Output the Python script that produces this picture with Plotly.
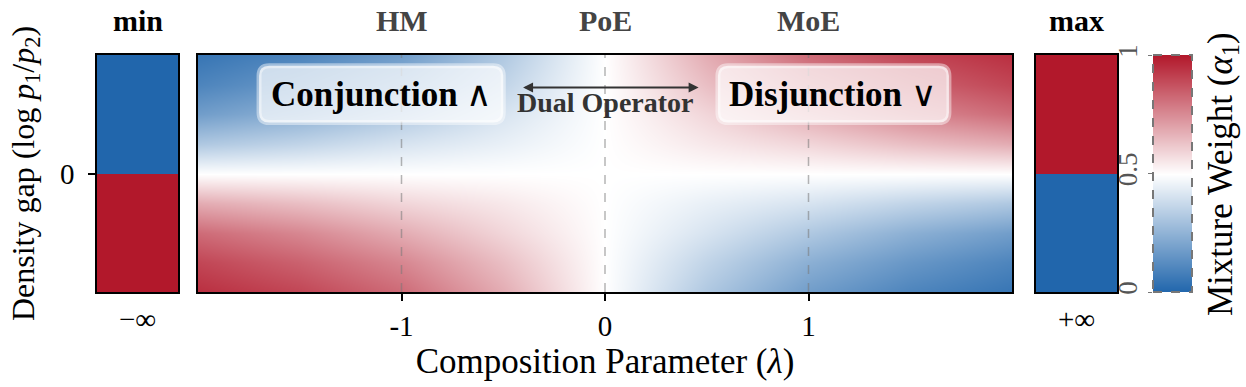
import plotly.graph_objects as go

# ---------------- data ----------------
lambda_vals = [-2, -1.5, -1, -0.5, 0, 0.5, 1, 1.5, 2]
gap_vals = [-1, -0.75, -0.5, -0.25, 0, 0.25, 0.5, 0.75, 1]
# mixture weight alpha_1, rows follow gap_vals (bottom -> top), columns follow lambda_vals
weight_grid = [
    [0.95, 0.90, 0.82, 0.68, 0.50, 0.32, 0.18, 0.10, 0.05],
    [0.90, 0.84, 0.76, 0.64, 0.50, 0.36, 0.24, 0.16, 0.10],
    [0.82, 0.76, 0.68, 0.59, 0.50, 0.41, 0.32, 0.24, 0.18],
    [0.68, 0.64, 0.59, 0.55, 0.50, 0.45, 0.41, 0.36, 0.32],
    [0.50, 0.50, 0.50, 0.50, 0.50, 0.50, 0.50, 0.50, 0.50],
    [0.32, 0.36, 0.41, 0.45, 0.50, 0.55, 0.59, 0.64, 0.68],
    [0.18, 0.24, 0.32, 0.41, 0.50, 0.59, 0.68, 0.76, 0.82],
    [0.10, 0.16, 0.24, 0.36, 0.50, 0.64, 0.76, 0.84, 0.90],
    [0.05, 0.10, 0.18, 0.32, 0.50, 0.68, 0.82, 0.90, 0.95],
]
side_gap = [-0.5, 0.5]          # bottom half, top half
min_weights = [1, 0]             # lambda -> -inf
max_weights = [0, 1]             # lambda -> +inf
operator_lambdas = [-1, 0, 1]
operator_names = ["HM", "PoE", "MoE"]
cb_levels = [0, 0.5, 1]

# ---------------- style ----------------
W, H = 1246, 387
FONT = "Liberation Serif, Times New Roman, Times, serif"
CS = [[0, "#2166ac"], [0.5, "#ffffff"], [1, "#b2182b"]]

def px_x(p):
    return p / W

def px_y(p):
    return 1 - p / H

ydom = [px_y(292), px_y(55)]
dom_left = [px_x(97), px_x(178)]
dom_main = [px_x(198), px_x(1012)]
dom_right = [px_x(1036), px_x(1117)]
dom_cb = [px_x(1153), px_x(1192)]

fig = go.Figure()

fig.add_trace(go.Heatmap(x=[0], y=side_gap, z=[[v] for v in min_weights],
                         colorscale=CS, zmin=0, zmax=1, showscale=False,
                         xaxis="x", yaxis="y", hoverinfo="skip"))
fig.add_trace(go.Heatmap(x=lambda_vals, y=gap_vals, z=weight_grid,
                         colorscale=CS, zmin=0, zmax=1, showscale=False,
                         zsmooth="best", xaxis="x2", yaxis="y2"))
fig.add_trace(go.Heatmap(x=[0], y=side_gap, z=[[v] for v in max_weights],
                         colorscale=CS, zmin=0, zmax=1, showscale=False,
                         xaxis="x3", yaxis="y3", hoverinfo="skip"))
fig.add_trace(go.Heatmap(x=[0, 1], y=cb_levels, z=[[v, v] for v in cb_levels],
                         colorscale=CS, zmin=0, zmax=1, showscale=False,
                         zsmooth="best", xaxis="x4", yaxis="y4", hoverinfo="skip"))

ax_common = dict(showline=True, mirror=True, linecolor="black", linewidth=1.5,
                 showgrid=False, zeroline=False, automargin=False,
                 tickfont=dict(family=FONT, size=29, color="black"))

fig.update_layout(
    width=W, height=H, margin=dict(l=0, r=0, t=0, b=0, autoexpand=False),
    paper_bgcolor="white", plot_bgcolor="white", showlegend=False,
    font=dict(family=FONT, color="black"),
    xaxis=dict(domain=dom_left, anchor="y", range=[-0.5, 0.5], tickvals=[0],
               ticktext=["\u2212\u221e"], ticks="", **ax_common),
    yaxis=dict(domain=ydom, anchor="x", range=[-1, 1], tickvals=[0], ticktext=["0"],
               ticks="outside", ticklen=7, tickwidth=1.5, tickcolor="black",
               ticklabelstandoff=8,
               title=dict(text="Density gap (log <i>p</i><sub>1</sub>/<i>p</i><sub>2</sub>)",
                          font=dict(family=FONT, size=32), standoff=16),
               **ax_common),
    xaxis2=dict(domain=dom_main, anchor="y2", range=[-2, 2], tickvals=operator_lambdas,
                ticktext=["-1", "0", "1"], ticks="outside", ticklen=7, tickwidth=1.5,
                tickcolor="black",
                title=dict(text="Composition Parameter (<i>λ</i>)",
                           font=dict(family=FONT, size=35), standoff=2),
                **ax_common),
    yaxis2=dict(domain=ydom, anchor="x2", range=[-1, 1], showticklabels=False,
                ticks="", **ax_common),
    xaxis3=dict(domain=dom_right, anchor="y3", range=[-0.5, 0.5], tickvals=[0],
                ticktext=["+\u221e"], ticks="", **ax_common),
    yaxis3=dict(domain=ydom, anchor="x3", range=[-1, 1], showticklabels=False,
                ticks="", **ax_common),
    xaxis4=dict(domain=dom_cb, anchor="y4", range=[0, 1], visible=False, automargin=False),
    yaxis4=dict(domain=ydom, anchor="x4", range=[0, 1], tickvals=cb_levels,
                ticktext=["0", "0.5", "1"], tickangle=-90, ticks="outside",
                ticklen=4, tickcolor="#777", showline=False, showgrid=False,
                zeroline=False, automargin=False,
                tickfont=dict(family=FONT, size=27, color="#555")),
)

shapes = []
for lam in operator_lambdas:
    shapes.append(dict(type="line", xref="x2", yref="y2 domain", x0=lam, x1=lam,
                       y0=0, y1=1, line=dict(color="rgba(120,120,120,0.55)",
                                             width=1.5, dash="dash"), layer="above"))

def rounded_box(x0, x1, y0, y1, rx, ry):
    return (f"M {x0+rx},{y0} L {x1-rx},{y0} Q {x1},{y0} {x1},{y0+ry} "
            f"L {x1},{y1-ry} Q {x1},{y1} {x1-rx},{y1} L {x0+rx},{y1} "
            f"Q {x0},{y1} {x0},{y1-ry} L {x0},{y0+ry} Q {x0},{y0} {x0+rx},{y0} Z")

for (bx0, bx1) in [(-1.70, -0.50), (0.555, 1.69)]:
    shapes.append(dict(type="path", xref="x2", yref="y2",
                       path=rounded_box(bx0, bx1, 0.43, 0.91, 0.05, 0.085),
                       fillcolor="rgba(255,255,255,0.72)",
                       line=dict(color="rgba(255,255,255,0.45)", width=5),
                       layer="above"))

shapes.append(dict(type="rect", xref="x4 domain", yref="y4 domain", x0=0, x1=1,
                   y0=0, y1=1, line=dict(color="#777", width=2, dash="dash"),
                   layer="above"))
fig.update_layout(shapes=shapes)

C = dict(xanchor="center", yanchor="middle", showarrow=False)
ann = []
ann.append(dict(text="<b>min</b>", xref="x domain", yref="paper", x=0.5, y=px_y(20),
                font=dict(family=FONT, size=30, color="black"), **C))
ann.append(dict(text="<b>max</b>", xref="x3 domain", yref="paper", x=0.5, y=px_y(20),
                font=dict(family=FONT, size=30, color="black"), **C))
for lam, name in zip(operator_lambdas, operator_names):
    ann.append(dict(text=f"<b>{name}</b>", xref="x2", yref="paper", x=lam, y=px_y(20),
                    font=dict(family=FONT, size=30, color="#444"), **C))
ann.append(dict(text="<b>Conjunction</b> \u2227", xref="x2", yref="y2", x=-1.10, y=0.67,
                font=dict(family=FONT, size=35, color="black"), **C))
ann.append(dict(text="<b>Disjunction</b> \u2228", xref="x2", yref="y2", x=1.12, y=0.67,
                font=dict(family=FONT, size=35, color="black"), **C))
ann.append(dict(text="", xref="x2", yref="y2", x=0.46, y=0.726, axref="x2", ayref="y2",
                ax=-0.41, ay=0.726, showarrow=True, arrowhead=2, startarrowhead=2,
                arrowside="end+start", arrowwidth=2, arrowsize=1, arrowcolor="#333"))
ann.append(dict(text="<b>Dual Operator</b>", xref="x2", yref="y2", x=0.0, y=0.60,
                font=dict(family=FONT, size=28, color="#333"), **C))
ann.append(dict(text="Mixture Weight (<i>α</i><sub>1</sub>)", xref="paper", yref="paper",
                x=px_x(1222), y=px_y(174), textangle=-90,
                font=dict(family=FONT, size=35, color="black"), **C))
fig.update_layout(annotations=ann)

fig.write_html("out.html", config={"displayModeBar": False},
               post_script="document.body.style.margin='0px';")
